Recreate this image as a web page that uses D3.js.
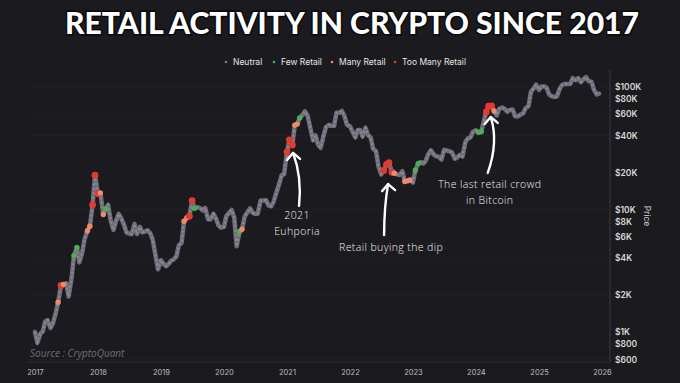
<!DOCTYPE html>
<html>
<head>
<meta charset="utf-8">
<script src="https://cdn.jsdelivr.net/npm/d3@7"></script>
<style>
  html, body { margin: 0; padding: 0; background: #1b1a1f; }
  svg { display: block; }
</style>
</head>
<body>
<div id="chart"></div>
<script>
// BTC price, sampled on the 1st and 15th of each month
const price2017 = [1000, 820, 970, 1010, 1220, 1250, 1080, 1180, 1420, 1750, 2400, 2450, 2500, 1950, 2750, 4200, 4900, 3700, 4400, 5700, 6700, 7300, 10900, 19000];
const price2018 = [13400, 13600, 9100, 10100, 10900, 8200, 6800, 8000, 9200, 8500, 7500, 6500, 6350, 6300, 7600, 6300, 7200, 6500, 6600, 6750, 6350, 5600, 4200, 3250];
const price2019 = [3850, 3600, 3450, 3600, 3820, 3900, 4150, 5100, 5350, 8000, 8550, 8800, 11800, 10200, 10400, 10300, 9800, 10300, 8300, 8300, 9200, 8500, 7400, 7100];
const price2020 = [7200, 8800, 9400, 9900, 8600, 5000, 6600, 6900, 8800, 9400, 10200, 9400, 9200, 9200, 11800, 11800, 11900, 10800, 10600, 11500, 13800, 15900, 19000, 19400];
const price2021 = [29400, 36800, 33500, 48700, 49600, 55600, 59000, 63000, 57800, 46700, 36700, 40200, 33500, 31800, 39900, 47000, 48800, 48100, 48100, 61500, 61300, 63600, 57200, 48900];
const price2022 = [47700, 43100, 38700, 44500, 44400, 39300, 46300, 40500, 38500, 31300, 29800, 22500, 19300, 20800, 23300, 24100, 20100, 19700, 19300, 19100, 20500, 16900, 17100, 17400];
const price2023 = [16600, 20900, 23700, 24300, 23600, 24800, 28400, 30300, 28100, 27200, 26800, 25500, 30600, 30300, 29700, 29200, 25900, 26600, 27900, 27000, 35400, 37900, 38700, 43000];
const price2024 = [44200, 42500, 43000, 51800, 62400, 69500, 69700, 63400, 58300, 66200, 67700, 66200, 62700, 64800, 65300, 57500, 57300, 59200, 60800, 67000, 69500, 91000, 97000, 104000];
const price2025 = [94400, 100500, 100600, 97500, 86000, 84000, 82500, 83600, 96500, 103700, 105600, 105500, 105700, 117800, 113300, 117400, 109200, 115300, 120000, 111000, 110000, 95000, 86500, 88000];

// retail level per sample: 0 neutral, 1 few, 2 many, 3 too many
const level2017 = [0,0,0,0,0,0,0,0,0,2,3,2,0,0,0,1,1,0,0,0,2,2,3,3];
const level2018 = [3,2,2,1,0,0,0,0,0,0,0,0,0,0,0,0,0,0,0,0,0,0,0,0];
const level2019 = [0,0,0,0,0,0,0,0,0,2,2,3,3,1,0,0,0,0,0,0,0,0,0,0];
const level2020 = [0,0,0,0,0,0,1,2,0,0,0,0,0,0,0,0,0,0,0,0,0,0,0,0];
const level2021 = [3,3,3,2,2,1,0,0,0,0,0,0,0,0,0,0,0,0,0,0,0,0,0,0];
const level2022 = [0,0,0,0,0,0,0,0,0,0,0,0,0,3,3,3,3,2,0,0,0,2,2,2];
const level2023 = [0,1,1,0,0,0,0,0,0,0,0,0,0,0,0,0,0,0,0,0,0,0,0,0];
const level2024 = [0,1,1,0,3,3,3,2,0,0,0,0,0,0,0,0,0,0,0,0,0,0,0,0];
const level2025 = [0,0,0,0,0,0,0,0,0,0,0,0,0,0,0,0,0,0,0,0,0,0,0,0];

const years = [2017, 2018, 2019, 2020, 2021, 2022, 2023, 2024, 2025];
const prices = [price2017, price2018, price2019, price2020, price2021, price2022, price2023, price2024, price2025];
const levels = [level2017, level2018, level2019, level2020, level2021, level2022, level2023, level2024, level2025];

const legendNames = ["Neutral", "Few Retail", "Many Retail", "Too Many Retail"];
const legendColors = ["#7b7a86", "#4caf50", "#ee8a6c", "#e23a33"];

const priceTicks = [600, 800, 1000, 2000, 4000, 6000, 8000, 10000, 20000, 40000, 60000, 80000, 100000];
const yearTicks = [2017, 2018, 2019, 2020, 2021, 2022, 2023, 2024, 2025, 2026];

const notes = [
  { date: "2021-02-05", price: 30000, lines: ["2021", "Euhporia"], dx: 4, dy: 66, bend: 9, tail: [6, 53] },
  { date: "2022-08-10", price: 16700, lines: ["Retail buying the dip"], dx: 3, dy: 67, bend: -4, tail: [-4, 51] },
  { date: "2024-03-27", price: 58900, lines: ["The last retail crowd", "in Bitcoin"], dx: -1, dy: 71, bend: 8, tail: [-3, 56] }
];

const W = 680, H = 383;
const mLeft = 35, mRight = 602, mTop = 70, mBottom = 362;

const data = [];
years.forEach((yr, i) => {
  prices[i].forEach((p, k) => {
    data.push({ date: new Date(yr, Math.floor(k / 2), k % 2 ? 15 : 1), price: p, level: levels[i][k] });
  });
});

const svg = d3.select("#chart").append("svg")
  .attr("width", W).attr("height", H);

svg.append("rect").attr("width", W).attr("height", H).attr("fill", "#1b1a1f");

const x = d3.scaleTime()
  .domain([new Date(2017, 0, 1), new Date(2026, 0, 1)])
  .range([mLeft, mRight]);
const y = d3.scaleLog()
  .domain([570, 137000])
  .range([mBottom, mTop]);

// faint grid
svg.append("g").selectAll("line").data(priceTicks).enter().append("line")
  .attr("x1", mLeft - 8).attr("x2", 608)
  .attr("y1", d => y(d)).attr("y2", d => y(d))
  .attr("stroke", "#212026").attr("stroke-width", 1);

// title
svg.append("text")
  .attr("x", 352).attr("y", 34)
  .attr("text-anchor", "middle")
  .attr("textLength", 574).attr("lengthAdjust", "spacingAndGlyphs")
  .attr("font-family", "Lato, 'DejaVu Sans', sans-serif")
  .attr("font-weight", 900).attr("font-size", 30)
  .attr("fill", "#ffffff").attr("stroke", "#0a0a0a").attr("stroke-width", 3)
  .attr("paint-order", "stroke")
  .text("RETAIL ACTIVITY IN CRYPTO SINCE 2017");

// legend
const legendX = [226, 274, 332, 395];
const lg = svg.append("g").attr("font-family", "Inter, 'Noto Sans', sans-serif")
  .attr("font-size", 8.5).attr("fill", "#e6e6e6");
legendNames.forEach((name, i) => {
  lg.append("circle").attr("cx", legendX[i]).attr("cy", 62).attr("r", 1.3).attr("fill", legendColors[i]);
  lg.append("text").attr("x", legendX[i] + 7).attr("y", 65).text(name);
});

// right axis
const yAxis = d3.axisRight(y)
  .tickValues(priceTicks)
  .tickSize(0).tickPadding(5)
  .tickFormat(d => d >= 1000 ? "$" + d / 1000 + "K" : "$" + d);
const ya = svg.append("g").attr("transform", `translate(610,0)`).call(yAxis);
ya.select(".domain").attr("stroke", "#3a3940").attr("d", `M0,${mTop}V${mBottom}`);
ya.selectAll("text").attr("fill", "#d8d8d8").attr("font-family", "Inter, 'Noto Sans', sans-serif")
  .attr("font-size", 8.5).attr("font-weight", 600);

svg.append("text")
  .attr("transform", "translate(644,216) rotate(90)")
  .attr("text-anchor", "middle")
  .attr("font-family", "Inter, 'Noto Sans', sans-serif")
  .attr("font-size", 8.5).attr("fill", "#d8d8d8")
  .text("Price");

// bottom axis
const xAxis = d3.axisBottom(x)
  .tickValues(yearTicks.map(t => new Date(t, 0, 1)))
  .tickSize(0).tickPadding(8)
  .tickFormat(d3.timeFormat("%Y"));
const xa = svg.append("g").attr("transform", `translate(0,${mBottom})`).call(xAxis);
xa.select(".domain").attr("stroke", "#2e2d34").attr("d", `M${mLeft - 8},0H610`);
xa.selectAll("text").attr("fill", "#bdbdbd").attr("font-family", "Inter, 'Noto Sans', sans-serif")
  .attr("font-size", 7.5);

// source
svg.append("text")
  .attr("x", 30).attr("y", 357)
  .attr("font-family", "'Open Sans', sans-serif")
  .attr("font-style", "italic").attr("font-size", 10)
  .attr("fill", "#6f6e78")
  .text("Source : CryptoQuant");

// price band
const line = d3.line()
  .x(d => x(d.date))
  .y(d => y(d.price));

svg.append("path")
  .datum(data)
  .attr("fill", "none")
  .attr("stroke", "#6e6d79")
  .attr("stroke-width", 4.5)
  .attr("stroke-linejoin", "round")
  .attr("stroke-linecap", "round")
  .attr("d", line);

svg.append("path")
  .datum(data)
  .attr("fill", "none")
  .attr("stroke", "#8b8a96")
  .attr("stroke-width", 2)
  .attr("stroke-dasharray", "2 2.5")
  .attr("d", line);

// retail dots
svg.append("g").selectAll("circle")
  .data(data.filter(d => d.level > 0))
  .enter().append("circle")
  .attr("cx", d => x(d.date))
  .attr("cy", d => y(d.price))
  .attr("r", d => d.level === 3 ? 3.4 : 2.7)
  .attr("fill", d => legendColors[d.level]);

// annotations
const ng = svg.append("g");
notes.forEach(n => {
  const tx = x(new Date(n.date)), ty = y(n.price) + 2;
  const bx = tx + n.tail[0], by = ty + n.tail[1];
  const p = d3.path();
  p.moveTo(bx, by);
  p.quadraticCurveTo(tx + n.bend, ty + n.tail[1] * 0.45, tx, ty);
  ng.append("path").attr("d", p.toString())
    .attr("fill", "none").attr("stroke", "#ffffff").attr("stroke-width", 2.4)
    .attr("stroke-linecap", "round");
  const h = d3.path();
  h.moveTo(tx - 6, ty + 7); h.lineTo(tx, ty); h.lineTo(tx + 7, ty + 6);
  ng.append("path").attr("d", h.toString())
    .attr("fill", "none").attr("stroke", "#ffffff").attr("stroke-width", 2.4)
    .attr("stroke-linecap", "round").attr("stroke-linejoin", "round");
  n.lines.forEach((t, i) => {
    ng.append("text")
      .attr("x", tx + n.dx).attr("y", ty + n.dy + i * 16)
      .attr("text-anchor", "middle")
      .attr("font-family", "'Open Sans', sans-serif")
      .attr("font-weight", 300)
      .attr("font-size", 10.5).attr("letter-spacing", 0.4)
      .attr("fill", "#f2f2f2")
      .text(t);
  });
});
</script>
</body>
</html>
